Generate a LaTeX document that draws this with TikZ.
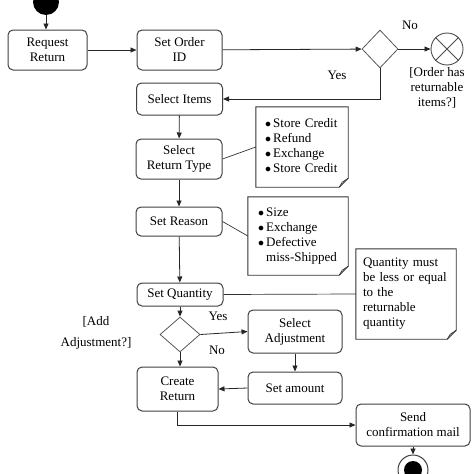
\documentclass[tikz,border=0pt]{standalone}
\usepackage{fontspec}
\setmainfont{Liberation Serif}
\usetikzlibrary{shapes.geometric}
\usetikzlibrary{calc}
\usetikzlibrary{arrows.meta}

\begin{document}
\begin{tikzpicture}[x=1pt, y=-1pt, font=\fontsize{13}{15}\selectfont]
        % ================= 样式定义 =================
        \tikzset{
            % 活动框:圆角灰黑边
            act/.style={rectangle, rounded corners=5pt, draw=black!75, line width=1pt, fill=white, align=center, inner sep=1pt},
            % 判断菱形
            decision/.style={diamond, draw=black!65, line width=0.8pt, fill=white, inner sep=0pt},
            % 注释框 (边框另画)
            note/.style={rectangle, align=left, inner ysep=0pt},
            % 流程箭头
            flow/.style={line width=0.8pt, black!85, -{Triangle[length=6pt,width=5pt]}},
            % 注释连线
            link/.style={line width=0.7pt, black!80},
            lbl/.style={align=center, inner sep=0pt}
        }

        \useasboundingbox (0,0) rectangle (474,474);

        % ================= 1. 活动节点 =================
        \node[circle, fill=black, minimum size=26pt, inner sep=0pt] (start) at (46,2) {};
        \node[act, minimum width=79pt, minimum height=40pt] (req) at (47.5,50) {Request\\Return};
        \node[act, minimum width=85pt, minimum height=40pt] (order) at (179.5,50) {Set Order\\ID};
        \node[decision, minimum width=36pt, minimum height=38pt] (dec1) at (380,49) {};
        \node[circle, draw=black!70, line width=0.9pt, minimum size=32pt, inner sep=0pt] (stop) at (447,49) {};
        \node[act, minimum width=86pt, minimum height=32pt] (items) at (179.5,99) {Select Items};
        \node[act, minimum width=86pt, minimum height=40pt] (rtype) at (179,159) {Select\\Return Type};
        \node[act, minimum width=86pt, minimum height=29pt] (reason) at (179,221.5) {Set Reason};
        \node[act, minimum width=86pt, minimum height=23pt] (qty) at (180,294.5) {Set Quantity};
        \node[decision, minimum width=40pt, minimum height=35pt] (dec2) at (180,334.5) {};
        \node[act, minimum width=94pt, minimum height=43pt] (adj) at (295,331.5) {Select\\Adjustment};
        \node[act, minimum width=94pt, minimum height=32pt] (amount) at (295,388) {Set amount};
        \node[act, minimum width=81pt, minimum height=44pt] (create) at (177.5,389) {Create\\Return};
        \node[act, minimum width=114pt, minimum height=42pt] (send) at (413,425) {Send\\confirmation mail};
        \node[circle, draw=black!75, line width=1pt, fill=white, minimum size=30pt, inner sep=0pt] (endo) at (413,470) {};
        \node[circle, fill=black, minimum size=18pt, inner sep=0pt] (endi) at (endo) {};

        % 终止符的叉
        \draw[black!70, line width=0.9pt] (stop.north west) -- (stop.south east);
        \draw[black!70, line width=0.9pt] (stop.north east) -- (stop.south west);

        % ================= 2. 注释框 =================
        \node[note, minimum width=92pt, minimum height=80pt, inner xsep=9pt, text width=74pt] (note1) at (302,147) {%
            \begin{tabular}{@{}l@{\,}l@{}}
            $\bullet$ & Store Credit\\
            $\bullet$ & Refund\\
            $\bullet$ & Exchange\\
            $\bullet$ & Store Credit
            \end{tabular}};
        \node[note, minimum width=100pt, minimum height=78pt, inner xsep=10pt, text width=80pt] (note2) at (298,236) {%
            \begin{tabular}{@{}l@{\,}l@{}}
            $\bullet$ & Size\\
            $\bullet$ & Exchange\\
            $\bullet$ & Defective\\
                      & miss-Shipped
            \end{tabular}};
        \node[note, minimum width=100pt, minimum height=90pt, inner xsep=7pt, text width=86pt] (note3) at (406,294) {%
            Quantity must\\be less or equal\\to the\\returnable\\quantity};

        % 折角边框
        \foreach \n in {note1,note2,note3} {
            \draw[link, line width=0.9pt] (\n.north west) -- (\n.north east) -- ($(\n.south east)+(0pt,9pt)$)
                -- ($(\n.south east)+(-9pt,0pt)$) -- (\n.south west) -- cycle;
            \draw[link] ($(\n.south east)+(0pt,9pt)$) -- ($(\n.south east)+(-6pt,5pt)$) -- ($(\n.south east)+(-9pt,0pt)$);
        }

        % ================= 3. 连线 =================
        \draw[flow] (start) -- (start |- req.north);
        \draw[flow] (req) -- (order);
        \draw[flow] (order) -- (dec1);
        \draw[flow] (dec1) -- (stop);
        \draw[flow] (dec1.south) |- (items.east);
        \draw[flow] (items) -- (rtype);
        \draw[flow] (rtype) -- (reason);
        \draw[flow] (reason) -- (qty);
        \draw[flow] (qty) -- (dec2);
        \draw[flow] (dec2.east) -- (adj.west);
        \draw[flow] (dec2.south) -- (dec2.south |- create.north);
        \draw[flow] (adj) -- (amount);
        \draw[flow] (amount.west) -- (create.east);
        \draw[flow] (create.south) |- (send.west);
        \draw[flow] (send.south) -- (endo.north);

        \draw[link] (rtype.east) -- (note1.west);
        \draw[link] (reason.east) -- (note2.west);
        \draw[link] (qty.east) -- (note3.west);

        % ================= 4. 标注 =================
        \node[lbl] (no1) at (410,25) {No};
        \node[lbl] (yes1) at (337,75) {Yes};
        \node[lbl, font=\fontsize{13}{15}\selectfont] (guard1) at (437,88) {[Order has\\returnable\\items?]};
        \node[lbl] (yes2) at (218,316) {Yes};
        \node[lbl] (no2) at (217,350) {No};
        \node[lbl] (guard2) at (96,333) {[Add\\\rule{0pt}{18pt}Adjustment?]};

    \end{tikzpicture}
\end{document}
